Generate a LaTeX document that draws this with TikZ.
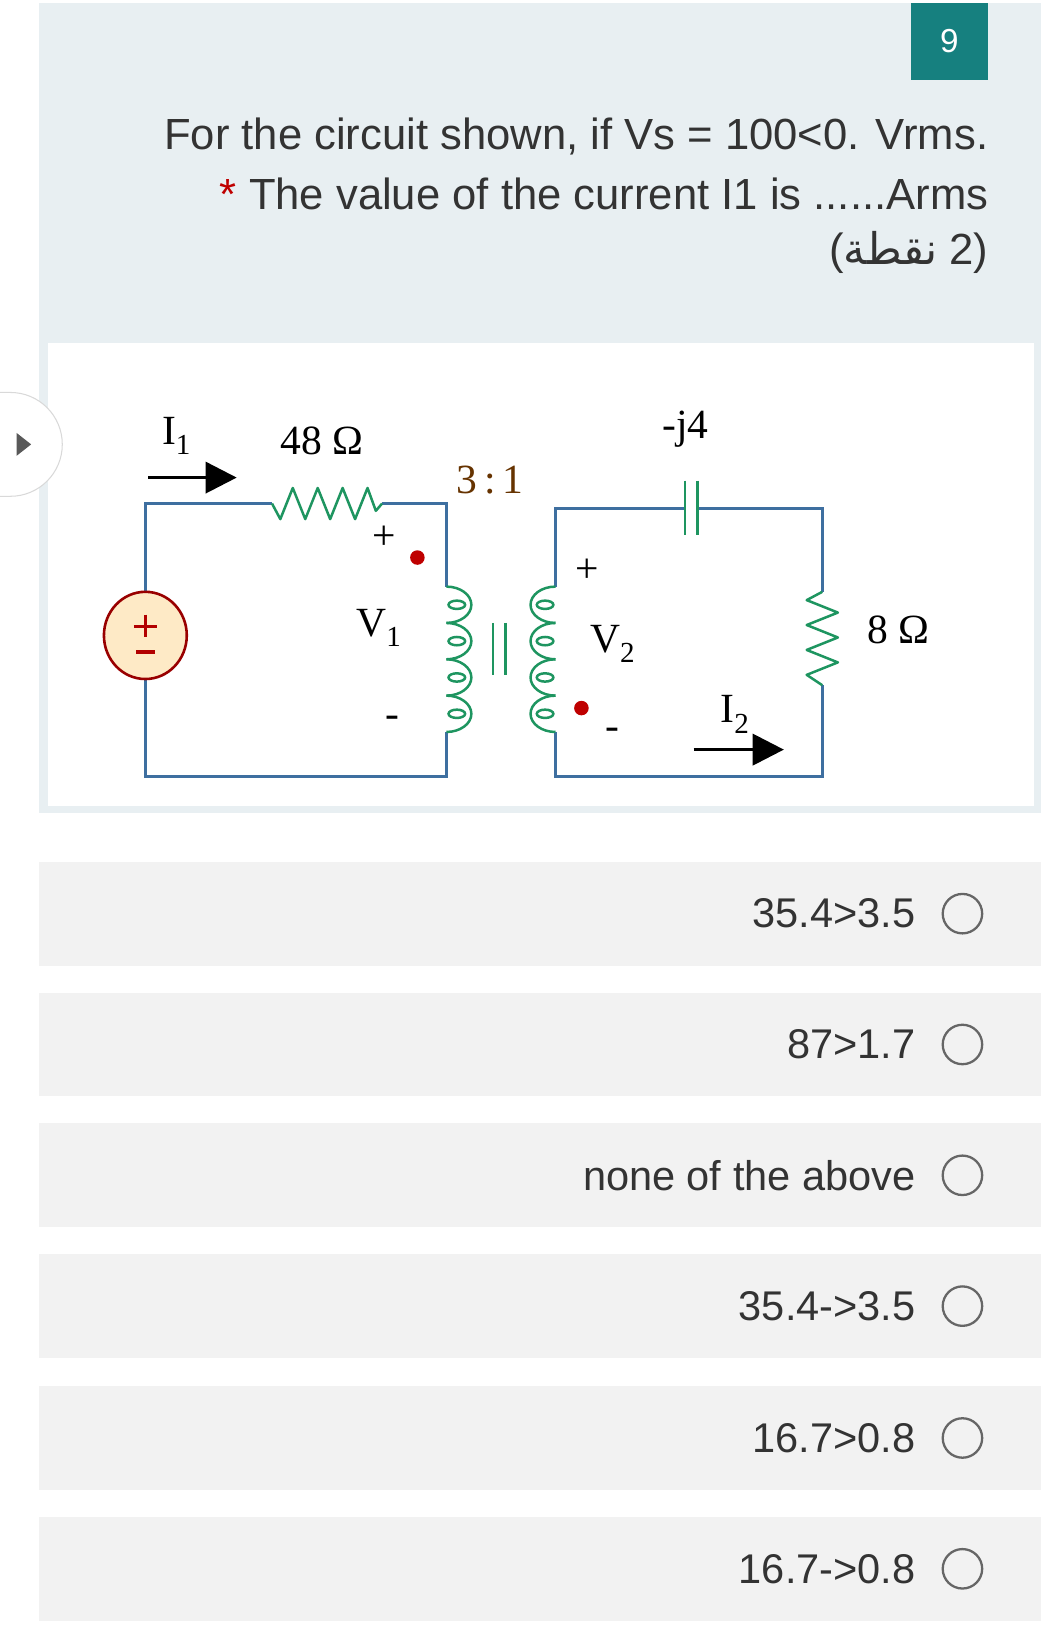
\documentclass[tikz,border=0pt]{standalone}
\usepackage{fontspec}
\setmainfont{Liberation Sans}
\newfontfamily\arabicfont[Script=Arabic]{DejaVu Sans}
\newfontfamily\circfont{Liberation Serif}
\TeXXeTstate=1
\usetikzlibrary{arrows.meta}
\definecolor{panel}{HTML}{E8EFF2}
\definecolor{teal9}{HTML}{16807F}
\definecolor{optbg}{HTML}{F2F2F2}
\definecolor{wire}{HTML}{3E6FA0}
\definecolor{comp}{HTML}{1E9560}
\definecolor{txt}{HTML}{333333}
\begin{document}
\begin{tikzpicture}[x=1pt,y=-1pt,
  qtext/.style={font=\fontsize{42}{46}\selectfont,text=txt,anchor=east,inner sep=0},
  opttext/.style={font=\fontsize{40}{44}\selectfont,text=txt,anchor=east,inner sep=0},
  radio/.style={draw=gray!80!black,line width=2.2pt,circle,minimum size=38pt,inner sep=0},
  wirest/.style={draw=wire,line width=2.6pt},
  compst/.style={draw=comp,line width=2.4pt},
  clab/.style={font=\circfont\fontsize{40}{44}\selectfont,inner sep=0},
  cur/.style={-{Triangle[length=30pt,width=30pt]},line width=3.2pt}]
\useasboundingbox (0,0) rectangle (1024,1569);
\fill[white] (0,0) rectangle (1024,1569);
% top panel
\fill[panel] (38,3) rectangle (1003,783);
\fill[white] (46,330) rectangle (996,776);
\node[fill=teal9,minimum width=75pt,minimum height=74pt,inner sep=0,text=white,font=\fontsize{32}{36}\selectfont] (num) at (914.5,40) {9};
% side tab
\fill[white,draw=gray!30,line width=1pt] (0,378) -- (10,378) arc (-90:90:50) -- (0,478);
\fill[gray!70!black] (16,417) -- (30,428) -- (16,439) -- cycle;
% question text
\node[qtext] (q1) at (952,131) {For the circuit shown, if Vs = 100<0. Vrms.};
\node[qtext] (q2) at (952,187) {{\color{red!75!black}*} The value of the current I1 is ......Arms};
\node[qtext] (q3) at (952,243) {({\arabicfont\beginR نقطة\endR} 2)};
% circuit wires
\coordinate (TL) at (140,485); \coordinate (BL) at (140,748);
\draw[wirest] (140,570) -- (TL) -- (262,485);
\draw[wirest] (368,485) -- (430,485) -- (430,565);
\draw[wirest] (430,705) -- (430,748) -- (BL) -- (140,655);
\draw[wirest] (535,565) -- (535,490) -- (660,490);
\draw[wirest] (672,490) -- (792,490) -- (792,570);
\draw[wirest] (792,660) -- (792,748) -- (535,748) -- (535,705);
% resistor 48
\draw[compst,line join=round] (262,485) -- (270,500) -- (282,470) -- (294,500) -- (306,470) -- (318,500) -- (330,470) -- (342,500) -- (354,470) -- (362,492) -- (368,485);
% resistor 8
\draw[compst,line join=round] (792,570) -- (777,578) -- (807,590) -- (777,602) -- (807,614) -- (777,626) -- (807,638) -- (777,650) -- (792,660);
% capacitor
\draw[compst] (660,463) -- (660,515);
\draw[compst] (672,463) -- (672,515);
% source
\node[circle,draw=red!60!black,fill=yellow!25!orange!20,line width=2.5pt,minimum width=84pt,inner sep=0,xscale=0.95] (src) at (140,612) {};
\draw[red!70!black,line width=3pt] (129,603) -- (151,603) (140,592) -- (140,614) (131,628) -- (149,628);
% coils
\foreach \i in {0,1,2,3} {
  \draw[compst] (430,565+35*\i) arc [start angle=-90,end angle=90,x radius=24,y radius=17.5];
  \draw[compst] (440,582.5+35*\i) ellipse (8 and 4);
  \draw[compst] (535,565+35*\i) arc [start angle=-90,end angle=-270,x radius=24,y radius=17.5];
  \draw[compst] (525,582.5+35*\i) ellipse (8 and 4);
}
% core
\draw[compst] (475,600) -- (475,650) (487,600) -- (487,650);
% dots
\fill[red!75!black] (402,537) circle (7);
\fill[red!75!black] (560,682) circle (7);
% labels
\node[clab] (i1) at (170,420) {I\textsubscript{1}};
\draw[cur] (143,460) -- (228,460);
\node[clab] (r48) at (310,425) {48 Ω};
\node[clab,text=orange!40!black] (ratio) at (472,462) {3\,:\,1};
\node[clab] (cap) at (660,413) {-j4};
\node[clab] (p1) at (370,518) {+};
\node[clab] (v1) at (365,605) {V\textsubscript{1}};
\node[clab] (m1) at (378,695) {-};
\node[clab] (p2) at (566,550) {+};
\node[clab] (v2) at (590,620) {V\textsubscript{2}};
\node[clab] (m2) at (590,707) {-};
\node[clab] (i2) at (708,688) {I\textsubscript{2}};
\draw[cur] (668,722) -- (755,722);
\node[clab] (r8) at (865,607) {8 Ω};
% options
\foreach \y/\t [count=\k] in {830/35.4>3.5, 956/87>1.7, 1082/none of the above, 1208/35.4->3.5, 1335/16.7>0.8, 1461/16.7->0.8} {
  \fill[optbg] (38,\y) rectangle (1003,\y+100);
  \node[opttext] (o\k) at (882,\y+50) {\t};
  \node[radio] (r\k) at (927,\y+50) {};
}
\end{tikzpicture}
\end{document}
